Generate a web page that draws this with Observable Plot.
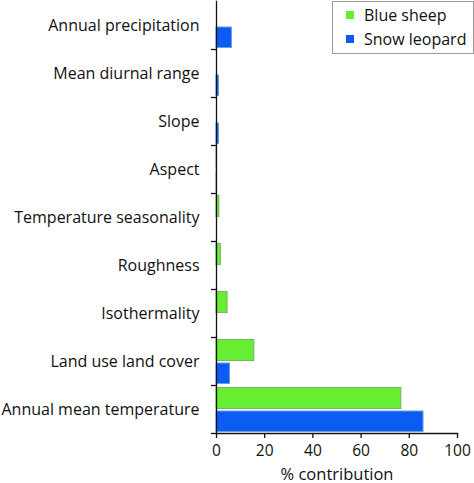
<!DOCTYPE html>
<html>
<head>
<meta charset="utf-8">
<script src="https://cdn.jsdelivr.net/npm/d3@7"></script>
<script src="https://cdn.jsdelivr.net/npm/@observablehq/plot@0.6"></script>
<style>
  body { margin: 0; background: #fff; font-family: "Open Sans", sans-serif; }
  #wrap { position: relative; width: 474px; height: 483px; }
  #legend { position: absolute; left: 332px; top: 1px; width: 127px; border: 1px solid #9a9a9a; background: #fff; padding: 1px 0 2px 13px; font-size: 16px; line-height: 24px; color: #111; }
  #legend .item { display: flex; align-items: center; white-space: nowrap; }
  #legend .sw { width: 8px; height: 8px; margin-right: 10px; }
</style>
</head>
<body>
<div id="wrap"></div>
<script>
const variables = [
  "Annual precipitation",
  "Mean diurnal range",
  "Slope",
  "Aspect",
  "Temperature seasonality",
  "Roughness",
  "Isothermality",
  "Land use land cover",
  "Annual mean temperature"
];
const blueSheep    = [0,   0,   0,   0.1, 1.2, 1.8, 4.6, 15.7, 76.7];
const snowLeopard  = [6.4, 1.0, 1.0, 0.1, 0,   0,   0,   5.6,  85.9];
const species = ["Blue sheep", "Snow leopard"];
const speciesColors = ["#66ee33", "#0a5cf2"];
const speciesStrokes = ["#79b565", "#6f9be0"];
const xTicks = [0, 20, 40, 60, 80, 100];

const sheepData = variables.map((v, i) => ({variable: v, value: blueSheep[i]}));
const leopardData = variables.map((v, i) => ({variable: v, value: snowLeopard[i]}));

const chart = Plot.plot({
  width: 474,
  height: 483,
  marginLeft: 216,
  marginRight: 17,
  marginTop: 1,
  marginBottom: 50,
  style: {fontFamily: "Open Sans, sans-serif", fontSize: "16px", color: "#111"},
  x: {domain: [0, 100]},
  y: {domain: variables, padding: 0},
  marks: [
    Plot.barX(sheepData, {x: "value", y: "variable", fill: speciesColors[0], stroke: speciesStrokes[0], strokeWidth: 1, insetTop: 2.5, insetBottom: 24.5}),
    Plot.barX(leopardData, {x: "value", y: "variable", fill: speciesColors[1], stroke: speciesStrokes[1], strokeWidth: 1, insetTop: 26, insetBottom: 1.5}),
    Plot.axisY({tickSize: 0, tickPadding: 17, label: null, fontSize: 16}),
    Plot.axisY({tickSize: 5, tickFormat: () => "", label: null, dy: 24, strokeWidth: 1.3, stroke: "#111"}),
    Plot.axisX({ticks: xTicks, tickSize: 5, tickPadding: 6, fontSize: 15.5, label: null, strokeWidth: 1.3, stroke: "#111"}),
    Plot.axisX({ticks: [], tickSize: 0, label: "% contribution", labelAnchor: "center", labelArrow: "none", labelOffset: 46, fontSize: 16.5}),
    Plot.frame({anchor: "left", stroke: "#111", strokeWidth: 1.3}),
    Plot.frame({anchor: "bottom", stroke: "#111", strokeWidth: 1.3})
  ]
});
const wrap = document.getElementById("wrap");
wrap.appendChild(chart);

const legend = document.createElement("div");
legend.id = "legend";
species.forEach((s, i) => {
  const item = document.createElement("div");
  item.className = "item";
  const sw = document.createElement("span");
  sw.className = "sw";
  sw.style.background = speciesColors[i];
  const t = document.createElement("span");
  t.textContent = s;
  item.appendChild(sw); item.appendChild(t);
  legend.appendChild(item);
});
wrap.appendChild(legend);
</script>
</body>
</html>
